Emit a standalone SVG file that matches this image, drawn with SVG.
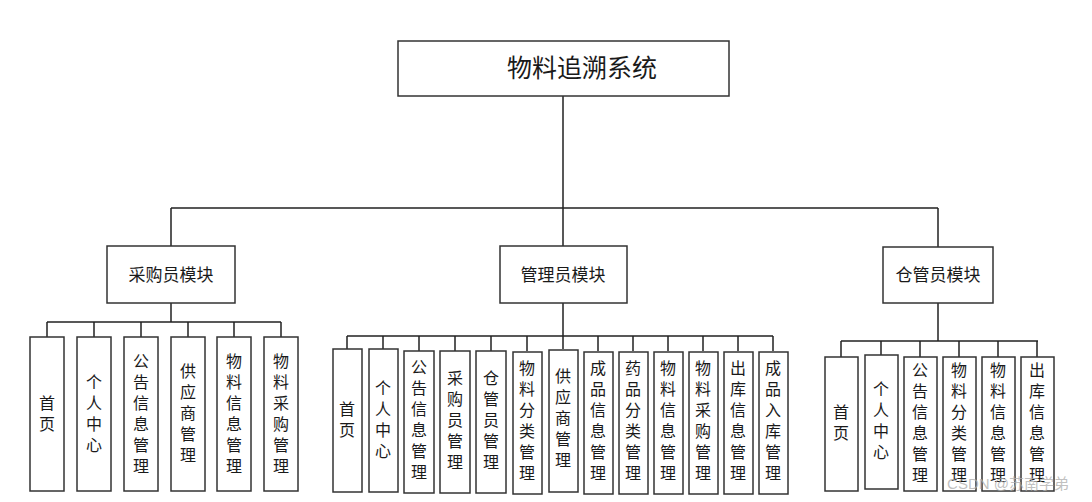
<svg xmlns="http://www.w3.org/2000/svg" width="1092" height="502" viewBox="0 0 1092 502">
<style>
rect{fill:#fff;stroke:#333;stroke-width:1.5}
text{font-family:"Liberation Serif","Noto Sans CJK SC",serif;fill:#1a1a1a;text-anchor:middle}
.leaf{font-size:16px}
.mod{font-size:17px}
#connectors path{fill:none;stroke:#222;stroke-width:1.5}
</style>
<rect width="1092" height="502" style="fill:#fff;stroke:none"/>
<g id="connectors">
<path d="M563 96V208M171 208H938M171 208V246M563 208V246M938 208V247"/>
<path d="M171 303V322M47 322H281M47 322V337M94 322V337M141 322V337M188 322V337M234 322V337M281 322V337"/>
<path d="M563 303V336M347 336H773M347 336V349M383 336V349M419 336V351M455 336V351M491 336V351M527 336V351M563 336V349M598 336V351M633 336V351M668 336V351M703 336V351M738 336V351M773 336V351"/>
<path d="M938 303V341M841 341H1038M841 341V357M881 341V355M920 341V357M959 341V357M998 341V357M1037 341V357"/>
</g>
<g id="root"><rect x="398" y="41" width="331" height="55"/><text x="582" y="77" style="font-size:25px">物料追溯系统</text></g>
<g id="m1"><rect x="107" y="246" width="128" height="57"/><text class="mod" x="171" y="281">采购员模块</text></g>
<g id="m2"><rect x="500" y="246" width="127" height="57"/><text class="mod" x="563" y="281">管理员模块</text></g>
<g id="m3"><rect x="883" y="247" width="110" height="56"/><text class="mod" x="938" y="281">仓管员模块</text></g>
<g id="l1"><rect x="30" y="337" width="34" height="154"/><text class="leaf" x="47" y="409"><tspan x="47" dy="0">首</tspan><tspan x="47" dy="21">页</tspan></text></g>
<g id="l2"><rect x="77" y="337" width="34" height="154"/><text class="leaf" x="94" y="388"><tspan x="94" dy="0">个</tspan><tspan x="94" dy="21">人</tspan><tspan x="94" dy="21">中</tspan><tspan x="94" dy="21">心</tspan></text></g>
<g id="l3"><rect x="124" y="337" width="34" height="154"/><text class="leaf" x="141" y="367"><tspan x="141" dy="0">公</tspan><tspan x="141" dy="21">告</tspan><tspan x="141" dy="21">信</tspan><tspan x="141" dy="21">息</tspan><tspan x="141" dy="21">管</tspan><tspan x="141" dy="21">理</tspan></text></g>
<g id="l4"><rect x="171" y="337" width="34" height="154"/><text class="leaf" x="188" y="377"><tspan x="188" dy="0">供</tspan><tspan x="188" dy="21">应</tspan><tspan x="188" dy="21">商</tspan><tspan x="188" dy="21">管</tspan><tspan x="188" dy="21">理</tspan></text></g>
<g id="l5"><rect x="217" y="337" width="34" height="154"/><text class="leaf" x="234" y="367"><tspan x="234" dy="0">物</tspan><tspan x="234" dy="21">料</tspan><tspan x="234" dy="21">信</tspan><tspan x="234" dy="21">息</tspan><tspan x="234" dy="21">管</tspan><tspan x="234" dy="21">理</tspan></text></g>
<g id="l6"><rect x="264" y="337" width="34" height="154"/><text class="leaf" x="281" y="367"><tspan x="281" dy="0">物</tspan><tspan x="281" dy="21">料</tspan><tspan x="281" dy="21">采</tspan><tspan x="281" dy="21">购</tspan><tspan x="281" dy="21">管</tspan><tspan x="281" dy="21">理</tspan></text></g>
<g id="c1"><rect x="333" y="349" width="29" height="143"/><text class="leaf" x="347" y="415"><tspan x="347" dy="0">首</tspan><tspan x="347" dy="21">页</tspan></text></g>
<g id="c2"><rect x="369" y="349" width="29" height="143"/><text class="leaf" x="383" y="394"><tspan x="383" dy="0">个</tspan><tspan x="383" dy="21">人</tspan><tspan x="383" dy="21">中</tspan><tspan x="383" dy="21">心</tspan></text></g>
<g id="c3"><rect x="404" y="351" width="30" height="142"/><text class="leaf" x="419" y="373"><tspan x="419" dy="0">公</tspan><tspan x="419" dy="21">告</tspan><tspan x="419" dy="21">信</tspan><tspan x="419" dy="21">息</tspan><tspan x="419" dy="21">管</tspan><tspan x="419" dy="21">理</tspan></text></g>
<g id="c4"><rect x="440" y="351" width="30" height="142"/><text class="leaf" x="455" y="384"><tspan x="455" dy="0">采</tspan><tspan x="455" dy="21">购</tspan><tspan x="455" dy="21">员</tspan><tspan x="455" dy="21">管</tspan><tspan x="455" dy="21">理</tspan></text></g>
<g id="c5"><rect x="476" y="351" width="30" height="142"/><text class="leaf" x="491" y="384"><tspan x="491" dy="0">仓</tspan><tspan x="491" dy="21">管</tspan><tspan x="491" dy="21">员</tspan><tspan x="491" dy="21">管</tspan><tspan x="491" dy="21">理</tspan></text></g>
<g id="c6"><rect x="513" y="352" width="29" height="142"/><text class="leaf" x="527" y="374"><tspan x="527" dy="0">物</tspan><tspan x="527" dy="21">料</tspan><tspan x="527" dy="21">分</tspan><tspan x="527" dy="21">类</tspan><tspan x="527" dy="21">管</tspan><tspan x="527" dy="21">理</tspan></text></g>
<g id="c7"><rect x="549" y="350" width="29" height="142"/><text class="leaf" x="563" y="382"><tspan x="563" dy="0">供</tspan><tspan x="563" dy="21">应</tspan><tspan x="563" dy="21">商</tspan><tspan x="563" dy="21">管</tspan><tspan x="563" dy="21">理</tspan></text></g>
<g id="c8"><rect x="584" y="352" width="29" height="142"/><text class="leaf" x="598" y="374"><tspan x="598" dy="0">成</tspan><tspan x="598" dy="21">品</tspan><tspan x="598" dy="21">信</tspan><tspan x="598" dy="21">息</tspan><tspan x="598" dy="21">管</tspan><tspan x="598" dy="21">理</tspan></text></g>
<g id="c9"><rect x="619" y="352" width="29" height="142"/><text class="leaf" x="633" y="374"><tspan x="633" dy="0">药</tspan><tspan x="633" dy="21">品</tspan><tspan x="633" dy="21">分</tspan><tspan x="633" dy="21">类</tspan><tspan x="633" dy="21">管</tspan><tspan x="633" dy="21">理</tspan></text></g>
<g id="c10"><rect x="654" y="352" width="29" height="142"/><text class="leaf" x="668" y="374"><tspan x="668" dy="0">物</tspan><tspan x="668" dy="21">料</tspan><tspan x="668" dy="21">信</tspan><tspan x="668" dy="21">息</tspan><tspan x="668" dy="21">管</tspan><tspan x="668" dy="21">理</tspan></text></g>
<g id="c11"><rect x="689" y="352" width="29" height="142"/><text class="leaf" x="703" y="374"><tspan x="703" dy="0">物</tspan><tspan x="703" dy="21">料</tspan><tspan x="703" dy="21">采</tspan><tspan x="703" dy="21">购</tspan><tspan x="703" dy="21">管</tspan><tspan x="703" dy="21">理</tspan></text></g>
<g id="c12"><rect x="724" y="352" width="29" height="142"/><text class="leaf" x="738" y="374"><tspan x="738" dy="0">出</tspan><tspan x="738" dy="21">库</tspan><tspan x="738" dy="21">信</tspan><tspan x="738" dy="21">息</tspan><tspan x="738" dy="21">管</tspan><tspan x="738" dy="21">理</tspan></text></g>
<g id="c13"><rect x="759" y="352" width="29" height="142"/><text class="leaf" x="773" y="374"><tspan x="773" dy="0">成</tspan><tspan x="773" dy="21">品</tspan><tspan x="773" dy="21">入</tspan><tspan x="773" dy="21">库</tspan><tspan x="773" dy="21">管</tspan><tspan x="773" dy="21">理</tspan></text></g>
<g id="r1"><rect x="825" y="357" width="33" height="134"/><text class="leaf" x="841" y="418"><tspan x="841" dy="0">首</tspan><tspan x="841" dy="21">页</tspan></text></g>
<g id="r2"><rect x="865" y="355" width="33" height="134"/><text class="leaf" x="881" y="395"><tspan x="881" dy="0">个</tspan><tspan x="881" dy="21">人</tspan><tspan x="881" dy="21">中</tspan><tspan x="881" dy="21">心</tspan></text></g>
<g id="r3"><rect x="904" y="357" width="33" height="134"/><text class="leaf" x="920" y="376"><tspan x="920" dy="0">公</tspan><tspan x="920" dy="21">告</tspan><tspan x="920" dy="21">信</tspan><tspan x="920" dy="21">息</tspan><tspan x="920" dy="21">管</tspan><tspan x="920" dy="21">理</tspan></text></g>
<g id="r4"><rect x="943" y="357" width="33" height="134"/><text class="leaf" x="959" y="376"><tspan x="959" dy="0">物</tspan><tspan x="959" dy="21">料</tspan><tspan x="959" dy="21">分</tspan><tspan x="959" dy="21">类</tspan><tspan x="959" dy="21">管</tspan><tspan x="959" dy="21">理</tspan></text></g>
<g id="r5"><rect x="982" y="357" width="33" height="134"/><text class="leaf" x="998" y="376"><tspan x="998" dy="0">物</tspan><tspan x="998" dy="21">料</tspan><tspan x="998" dy="21">信</tspan><tspan x="998" dy="21">息</tspan><tspan x="998" dy="21">管</tspan><tspan x="998" dy="21">理</tspan></text></g>
<g id="r6"><rect x="1021" y="357" width="33" height="134"/><text class="leaf" x="1037" y="376"><tspan x="1037" dy="0">出</tspan><tspan x="1037" dy="21">库</tspan><tspan x="1037" dy="21">信</tspan><tspan x="1037" dy="21">息</tspan><tspan x="1037" dy="21">管</tspan><tspan x="1037" dy="21">理</tspan></text></g>
<text x="1008" y="489" style="font-family:'Liberation Sans','Noto Sans CJK SC',sans-serif;font-size:15px;fill:#b0b0b0;fill-opacity:0.8">CSDN @苏南学弟</text>
</svg>
